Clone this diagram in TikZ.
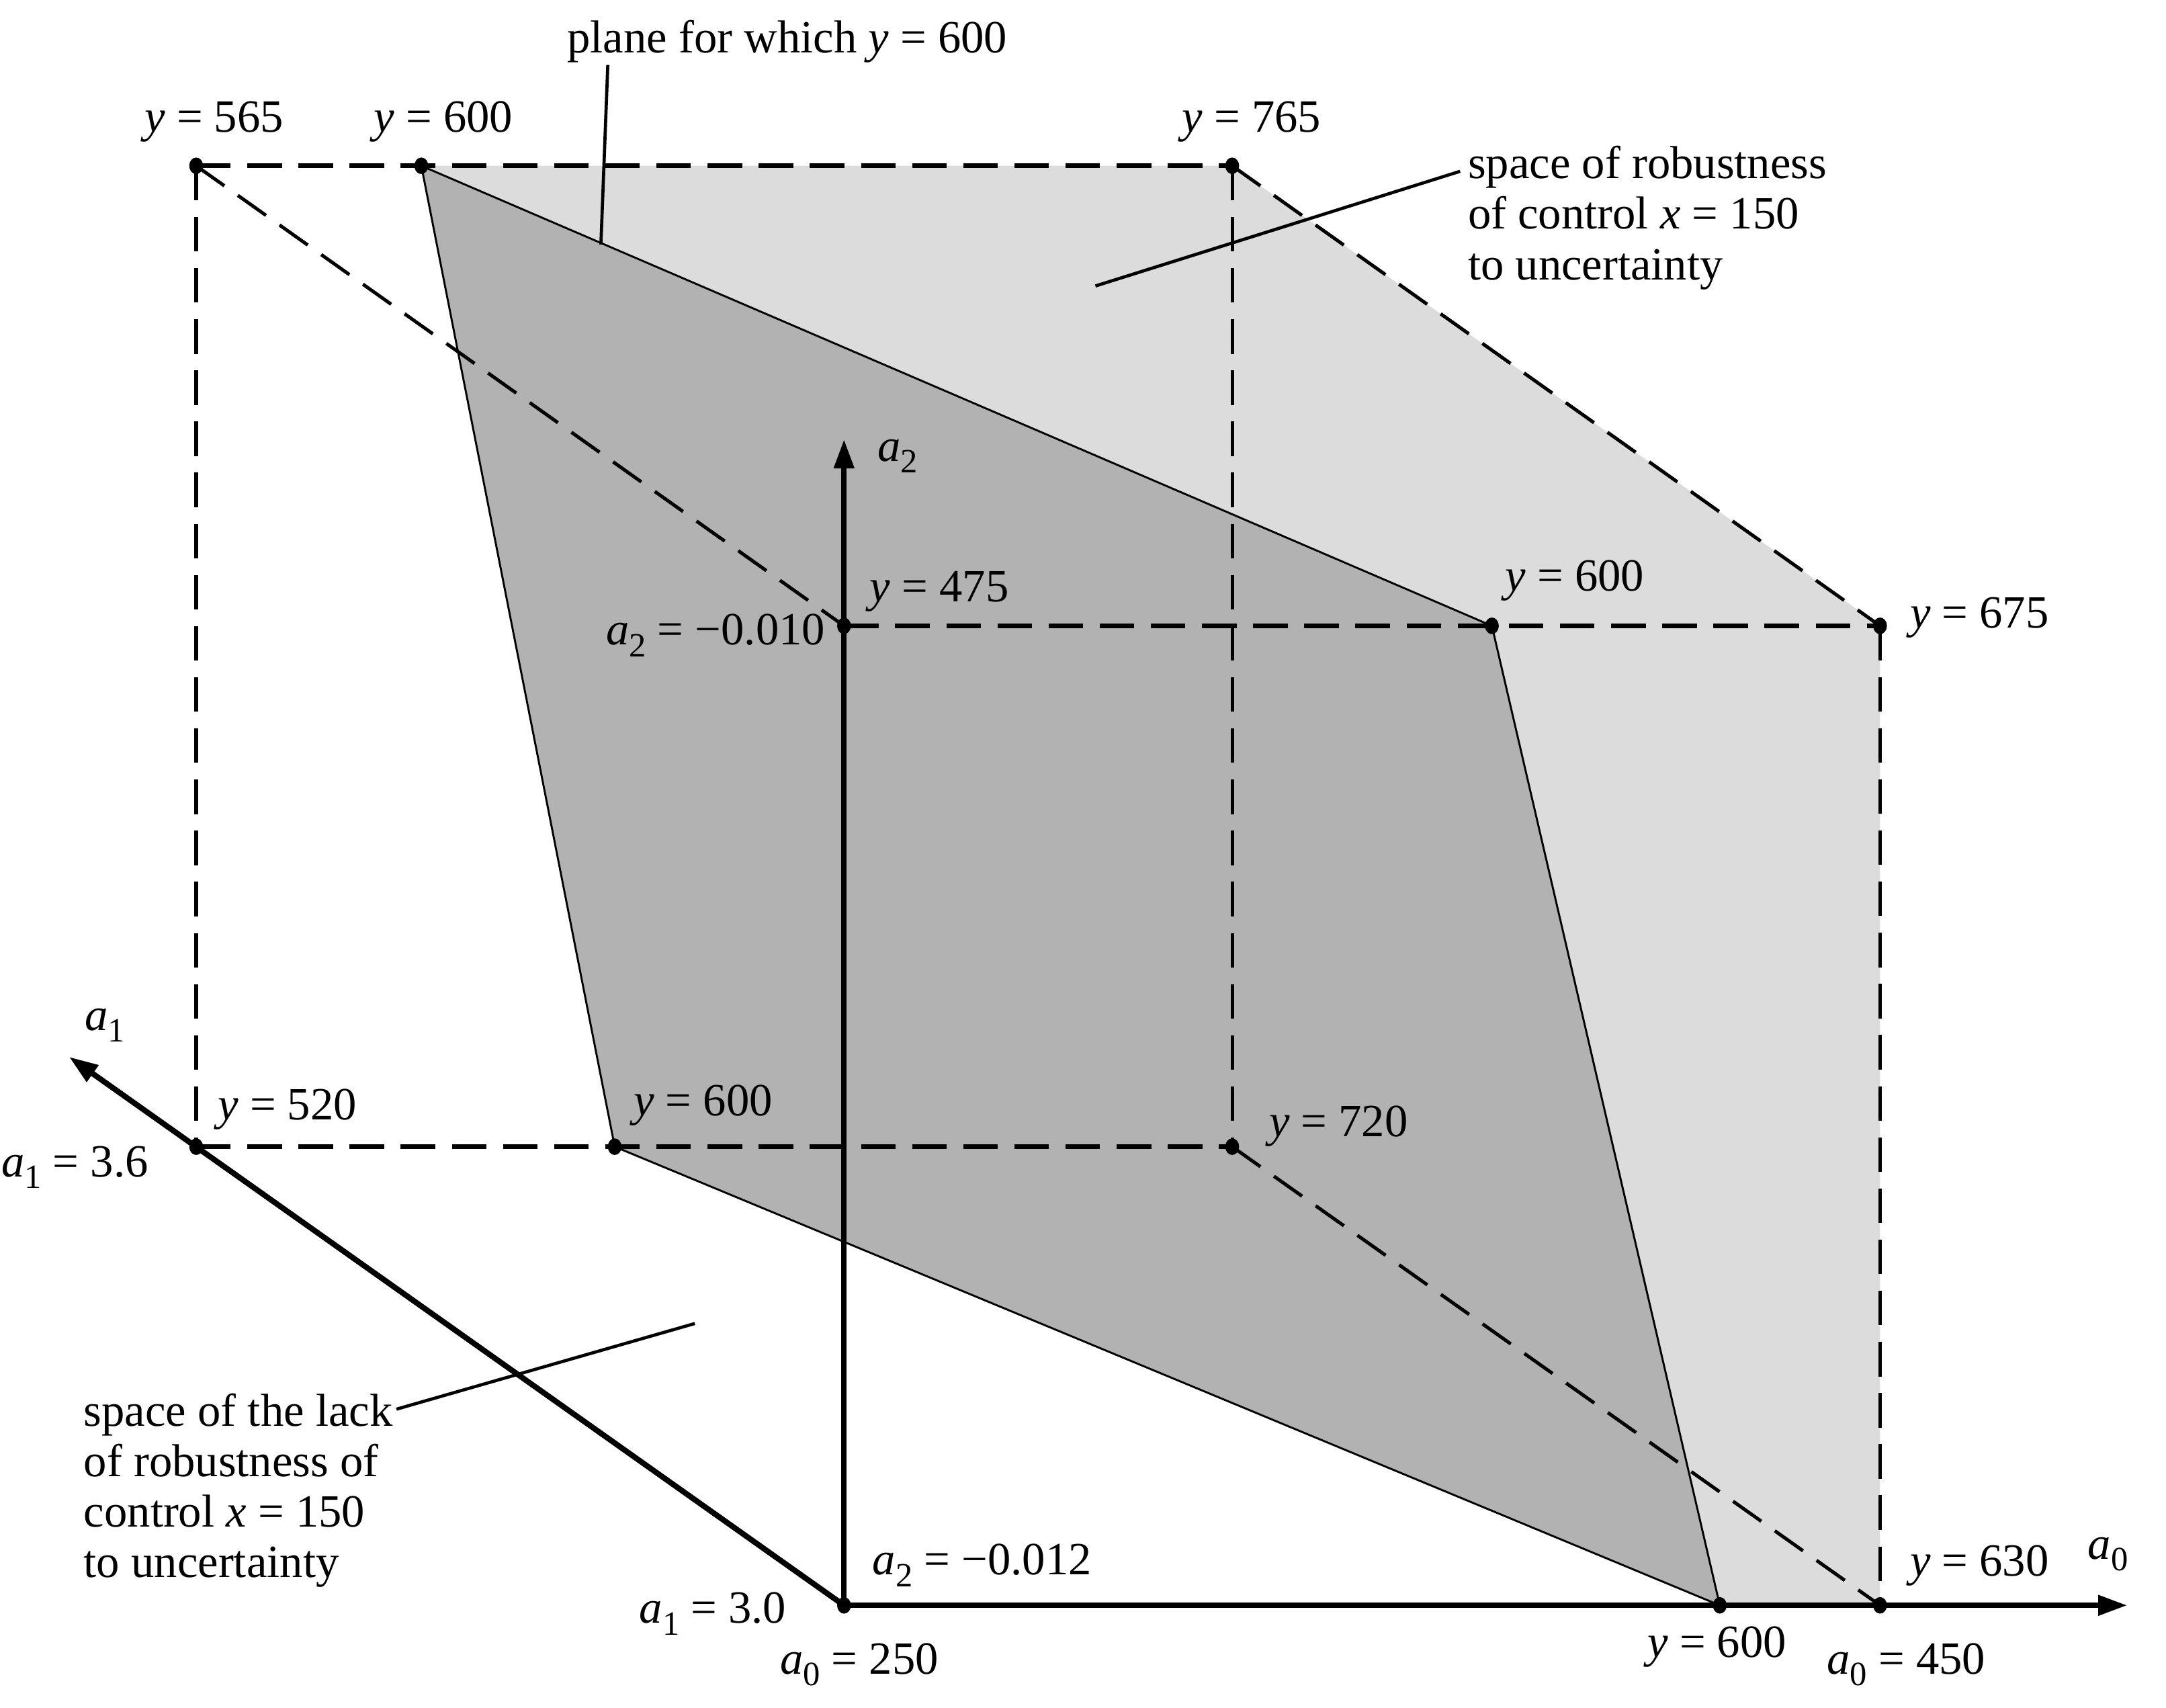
\documentclass[tikz,border=0pt]{standalone}
\usepackage{fontspec}
\setmainfont{Liberation Serif}
\usetikzlibrary{arrows.meta, positioning}

\definecolor{planegray}{HTML}{B2B2B2}
\definecolor{robustgray}{HTML}{DCDCDC}

\newcommand{\vy}{\textit{y}}
\newcommand{\vx}{\textit{x}}
\newcommand{\va}[1]{\textit{a}\raisebox{-0.55ex}{\fontsize{7}{7}\selectfont #1}}

\begin{document}
\begin{tikzpicture}[
    x=0.01cm, y=-0.01cm,
    font=\fontsize{9.5}{10.4}\selectfont,
    axis/.style={line width=1.15pt, -{Triangle[length=0.21cm, width=0.14cm]}},
    boxedge/.style={line width=0.7pt, dash pattern=on 0.25cm off 0.12cm},
    heavy/.style={line width=0.95pt},
    planeedge/.style={line width=0.4pt},
    leader/.style={line width=0.65pt},
    lbl/.style={inner sep=0pt},
    note/.style={inner sep=0pt, align=left},
    dot/.style={fill=black}
]
    \useasboundingbox (0,0) rectangle (1568,1236);

    % Corners of the box of uncertainty
    \coordinate (O) at (611,1162);
    \coordinate (A0) at (1361,1162);
    \coordinate (A1) at (142,830);
    \coordinate (A2) at (611,453);
    \coordinate (T565) at (142,120);
    \coordinate (T765) at (892,120);
    \coordinate (T675) at (1361,453);
    \coordinate (T720) at (892,830);
    % Plane y = 600
    \coordinate (Q1) at (305,120);
    \coordinate (Q2) at (1080,453);
    \coordinate (Q3) at (1245,1162);
    \coordinate (Q4) at (445,830);
    % Axis ends
    \coordinate (X0) at (1540,1162);
    \coordinate (X1) at (50,765);
    \coordinate (X2) at (611,318);

    % Shaded regions
    \fill[robustgray] (Q1) -- (T765) -- (T675) -- (A0) -- (Q3) -- cycle;
    \filldraw[fill=planegray, planeedge] (Q1) -- (Q2) -- (Q3) -- (Q4) -- cycle;

    % Dashed edges of the box
    \draw[boxedge, heavy] (T565) -- (T765);
    \draw[boxedge] (T565) -- (A1);
    \draw[boxedge] (T565) -- (A2);
    \draw[boxedge] (T765) -- (T720);
    \draw[boxedge] (T765) -- (T675);
    \draw[boxedge, heavy] (A2) -- (T675);
    \draw[boxedge] (T675) -- (A0);
    \draw[boxedge, heavy] (A1) -- (T720);
    \draw[boxedge] (T720) -- (A0);

    % Axes
    \draw[axis] (O) -- (X0);
    \draw[axis] (O) -- (X1);
    \draw[axis] (O) -- (X2);

    % Leader lines
    \coordinate (planefoot) at (440,47);
    \coordinate (planetip) at (435,177);
    \coordinate (robfoot) at (1057,124);
    \coordinate (robtip) at (793,207);
    \coordinate (lackfoot) at (287,1020);
    \coordinate (lacktip) at (503,958);
    \draw[leader] (planefoot) -- (planetip);
    \draw[leader] (robfoot) -- (robtip);
    \draw[leader] (lackfoot) -- (lacktip);

    % Points
    \foreach \p in {O, A0, A1, A2, T565, T765, T675, T720, Q1, Q2, Q3, Q4}
        \fill[dot] (\p) ellipse [x radius=5, y radius=6];

    % Labels
    \node[lbl, anchor=west] (planelbl) at (410,30) {plane for which \vy{} = 600};
    \node[lbl] (l565) at (155,88) {\vy{} = 565};
    \node[lbl] (l600a) at (321,88) {\vy{} = 600};
    \node[lbl] (l765) at (906,88) {\vy{} = 765};
    \node[note, anchor=north west] (roblbl) at (1062,105)
        {space of robustness\\of control \vx{} = 150\\to uncertainty};
    \node[lbl] (la2) at (650,330) {\va{2}};
    \node[lbl] (l475) at (680,428) {\vy{} = 475};
    \node[lbl, anchor=east] (la2top) at (598,460) {\va{2} = −0.010};
    \node[lbl] (l600b) at (1140,420) {\vy{} = 600};
    \node[lbl] (l675) at (1433,447) {\vy{} = 675};
    \node[lbl] (la1) at (76,742) {\va{1}};
    \node[lbl] (l520) at (208,803) {\vy{} = 520};
    \node[lbl, anchor=east] (la1top) at (108,845) {\va{1} = 3.6};
    \node[lbl] (l600c) at (509,800) {\vy{} = 600};
    \node[lbl] (l720) at (969,815) {\vy{} = 720};
    \node[note, anchor=north west] (lacklbl) at (60,1008)
        {space of the lack\\of robustness of\\control \vx{} = 150\\to uncertainty};
    \node[lbl] (la2bot) at (711,1133) {\va{2} = −0.012};
    \node[lbl] (la1bot) at (516,1168) {\va{1} = 3.0};
    \node[lbl] (la0a) at (622,1205) {\va{0} = 250};
    \node[lbl] (l600d) at (1243,1192) {\vy{} = 600};
    \node[lbl] (la0b) at (1380,1205) {\va{0} = 450};
    \node[lbl] (l630) at (1433,1133) {\vy{} = 630};
    \node[lbl] (la0) at (1526,1125) {\va{0}};
\end{tikzpicture}
\end{document}
